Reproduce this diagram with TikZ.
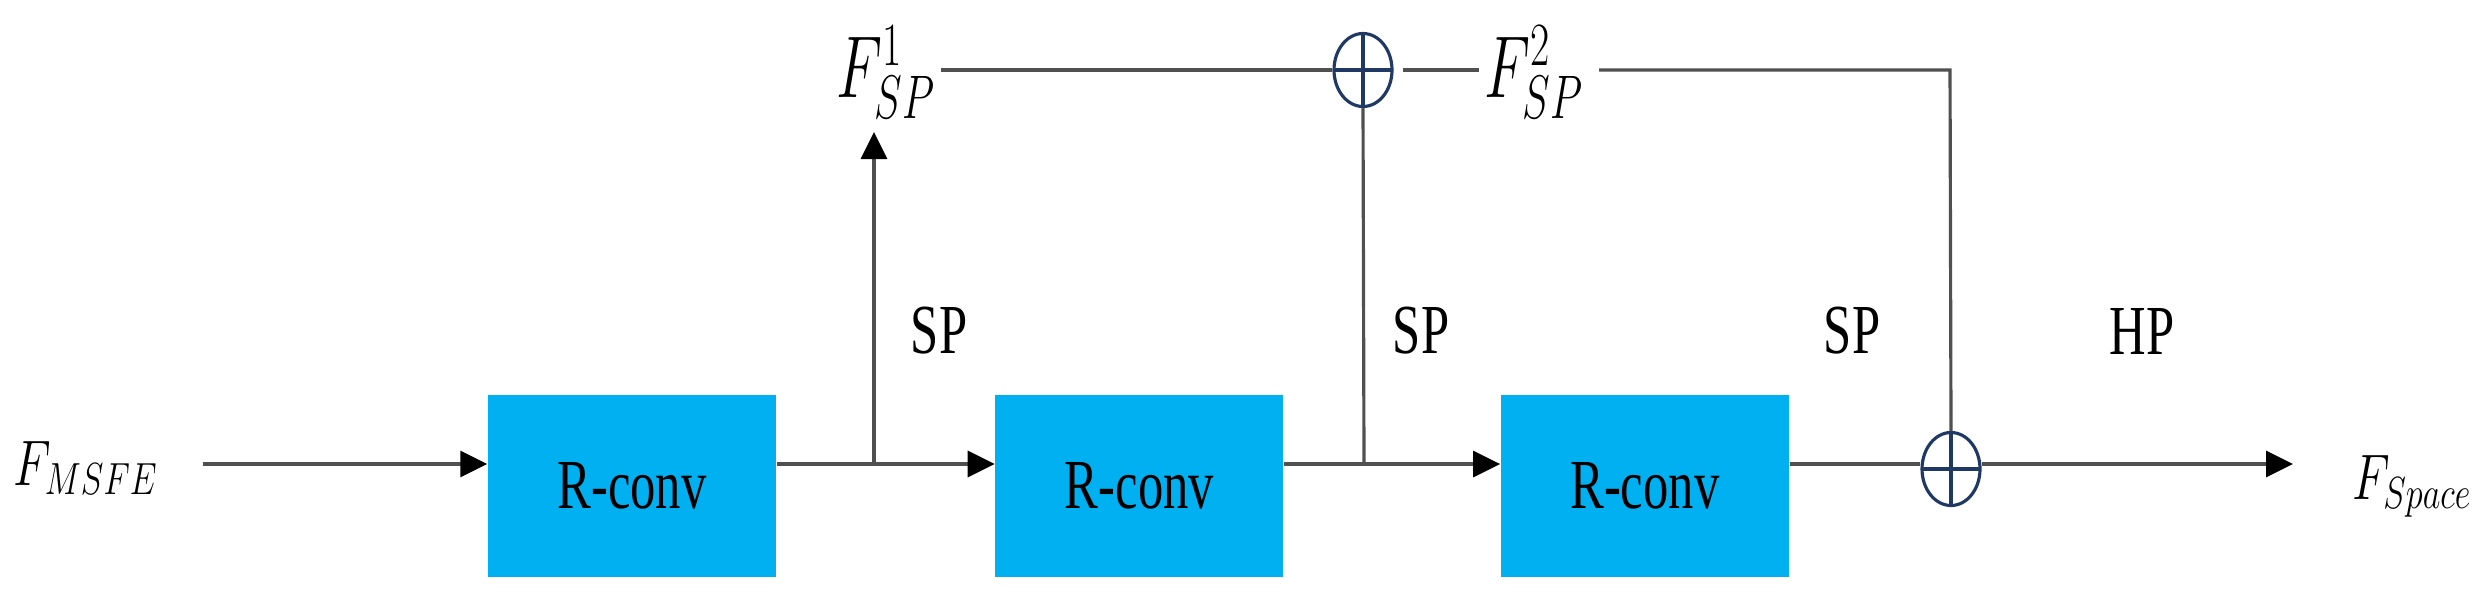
\RequirePackage{fix-cm}
\documentclass[tikz,border=0pt]{standalone}
\usepackage{fontspec}
\setmainfont{Liberation Serif}[FakeStretch=0.72]
\usetikzlibrary{arrows.meta,shapes.geometric,positioning}

\definecolor{boxblue}{HTML}{00B0F0}
\definecolor{sumblue}{HTML}{203864}
\definecolor{linegray}{HTML}{505050}

\newcommand{\sqzmath}[2]{\scalebox{#1}[1]{$#2$}}

\tikzset{
  rconv/.style={fill=boxblue, minimum width=2.88cm, minimum height=1.82cm,
    inner sep=0pt, font=\fontsize{20}{24}\selectfont},
  adder/.style={ellipse, draw=sumblue, line width=0.9pt, minimum width=0.58cm,
    minimum height=0.73cm, inner sep=0pt,
    path picture={\draw[sumblue, line width=0.9pt]
      (path picture bounding box.north) -- (path picture bounding box.south)
      (path picture bounding box.west) -- (path picture bounding box.east);}},
  lbl/.style={font=\fontsize{20}{24}\selectfont},
  smallf/.style={font=\fontsize{18.3}{22}\selectfont, inner sep=0.05cm, anchor=base},
  bigf/.style={font=\fontsize{25}{30}\selectfont, inner sep=0.05cm, anchor=base},
  flow/.style={draw=linegray, line width=0.9pt},
  arr/.style={flow, -{Triangle[length=0.27cm,width=0.26cm,color=black]}}
}

\begin{document}
\begin{tikzpicture}
\useasboundingbox (0,0) rectangle (24.86,6.05);

% main path
\node[smallf] (msfe) at (0.86,1.20) {\sqzmath{0.76}{F_{MSFE}}};
\coordinate (start) at (2.03,1.41);
\node[rconv] (b1) at (6.32,1.19) {R-conv};
\node[rconv, right=2.18cm of b1] (b2) {R-conv};
\node[rconv, right=2.16cm of b2] (b3) {R-conv};
\coordinate (j1) at (8.74,1.41);
\coordinate (j2) at (13.64,1.41);
\node[adder] (add2) at (19.51,1.36) {};
\coordinate (finish) at (22.93,1.41);
\node[smallf] (fspace) at (24.12,1.06) {\sqzmath{0.76}{F_{Space}}};

% top path
\node[bigf] (fsp1) at (8.86,5.08) {\sqzmath{0.68}{F_{SP}^{1}}};
\node[bigf] (fsp2) at (15.34,5.08) {\sqzmath{0.68}{F_{SP}^{2}}};
\node[adder] (add1) at (13.63,5.35) {};
\coordinate (sp1tip) at (8.74,4.73);
\coordinate (corner) at (19.50,5.35);

% labels
\node[lbl] (sp1) at (9.39,2.74) {SP};
\node[lbl] (sp2) at (14.21,2.74) {SP};
\node[lbl] (sp3) at (18.52,2.74) {SP};
\node[lbl] (hp) at (21.42,2.74) {HP};

% connectors
\draw[arr] (start) -- (start -| b1.west);
\draw[arr] (b1.east |- j1) -- (j1 -| b2.west);
\draw[arr] (b2.east |- j2) -- (j2 -| b3.west);
\draw[flow] (b3.east |- j2) -- (add2.west |- j2);
\draw[arr] (add2.east |- j2) -- (finish);
\draw[arr] (j1) -- (sp1tip);
\draw[flow] (j2) -- (add1.south);
\draw[flow] (fsp1.east |- add1) -- (add1.west);
\draw[flow, shorten <=0.09cm] (add1.east) -- (fsp2.west |- add1);
\draw[flow, shorten <=0.1cm] (fsp2.east |- add1) -- (corner) -- (add2.north);
\end{tikzpicture}
\end{document}
